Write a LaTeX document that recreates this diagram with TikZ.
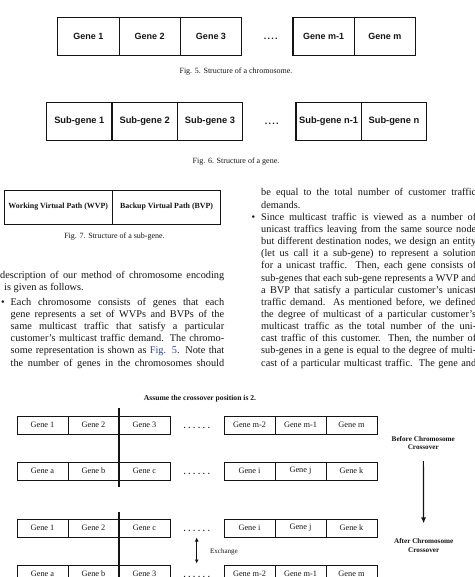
\documentclass[tikz,border=0pt]{standalone}
\usepackage{fontspec}
\setmainfont{Liberation Serif}
\newfontfamily\arialfont{Liberation Sans}
\usepackage{xcolor}
\usetikzlibrary{arrows.meta,positioning}
\definecolor{ink}{HTML}{141414}
\definecolor{linkblue}{HTML}{2E3FBE}
\newcommand{\jline}[2]{\hbox to #1{#2}}
\newcommand{\rline}[2]{\hbox to #1{#2\hfil}}
\newcommand{\bul}{\llap{\textbullet\hspace{6pt}}}

\begin{document}
\begin{tikzpicture}[x=1pt,y=-1pt,
  genebox/.style={draw=ink,line width=1.1pt,outer sep=0pt,inner sep=0pt,text=ink,
    minimum width=61.3pt,minimum height=38pt,
    font=\arialfont\bfseries\fontsize{9}{10}\selectfont},
  subbox/.style={genebox,minimum width=65.3pt,
    font=\arialfont\bfseries\fontsize{9.3}{10}\selectfont},
  pathbox/.style={draw=ink,line width=0.9pt,outer sep=0pt,inner sep=0pt,text=ink,
    minimum width=108.4pt,minimum height=34pt,
    font=\bfseries\fontsize{7.9}{9}\selectfont},
  cellbox/.style={draw=ink,line width=0.8pt,outer sep=0pt,inner sep=0pt,text=ink,
    minimum width=51pt,minimum height=18pt,font=\fontsize{8.3}{9}\selectfont},
  figcap/.style={anchor=base,inner sep=0pt,text=ink,font=\fontsize{8}{9.5}\selectfont},
  bodyline/.style={anchor=base west,inner sep=0pt,text=ink,font=\fontsize{10.3}{12}\selectfont},
  gap/.style={anchor=base,inner sep=0pt,text=ink},
  crossnote/.style={align=center,inner sep=1pt,text=ink,font=\bfseries\fontsize{7.2}{8.5}\selectfont}
]
\useasboundingbox (0,0) rectangle (474,577);
\clip (0,0) rectangle (474,577);

% Fig. 5
\node[genebox] (c1) at (88.4,36.3) {Gene 1};
\node[genebox,right=0pt of c1] (c2) {Gene 2};
\node[genebox,right=0pt of c2] (c3) {Gene 3};
\node[gap,font=\arialfont\bfseries\fontsize{9}{10}\selectfont] (cdots) at (270.7,39.5) {.\kern1.2pt.\kern1.2pt.\kern1.2pt.};
\node[genebox] (c4) at (323.65,36.3) {Gene m-1};
\node[genebox,right=0pt of c4] (c5) {Gene m};
\node[figcap] (cap5) at (236,74) {Fig. 5. Structure of a chromosome.};

% Fig. 6
\node[subbox] (s1) at (79.35,121.3) {Sub-gene 1};
\node[subbox,right=0pt of s1] (s2) {Sub-gene 2};
\node[subbox,right=0pt of s2] (s3) {Sub-gene 3};
\node[gap,font=\arialfont\bfseries\fontsize{9}{10}\selectfont] (sdots) at (271.7,124.6) {.\kern1.2pt.\kern1.2pt.\kern1.2pt.};
\node[subbox] (s4) at (328.65,121.3) {Sub-gene n-1};
\node[subbox,right=0pt of s4] (s5) {Sub-gene n};
\node[figcap] (cap6) at (236,163.5) {Fig. 6. Structure of a gene.};

% Fig. 7
\node[pathbox] (wvp) at (58.2,207) {Working Virtual Path (WVP)};
\node[pathbox,right=0pt of wvp] (bvp) {Backup Virtual Path (BVP)};
\node[figcap] (cap7) at (114.5,238.5) {Fig. 7. Structure of a sub-gene.};

% left column
\node[bodyline] (l0) at (0,278) {\jline{224pt}{description of our method of chromosome encoding}};
\node[bodyline] (l1) at (4,290) {\rline{220pt}{is given as follows.}};
\node[bodyline] (l2) at (10.5,305.35) {\jline{213.5pt}{\bul Each chromosome consists of genes that each}};
\node[bodyline] (l3) at (10.5,317.5) {\jline{213.5pt}{gene represents a set of WVPs and BVPs of the}};
\node[bodyline] (l4) at (10.5,329.65) {\jline{213.5pt}{same multicast traffic that satisfy a particular}};
\node[bodyline] (l5) at (10.5,341.8) {\jline{213.5pt}{customer’s multicast traffic demand. The chromo-}};
\node[bodyline] (l6) at (10.5,353.95) {\jline{213.5pt}{some representation is shown as {\color{linkblue}Fig. 5}. Note that}};
\node[bodyline] (l7) at (10.5,366.1) {\jline{213.5pt}{the number of genes in the chromosomes should}};

% right column
\node[bodyline] (r0) at (261,196) {\jline{215pt}{be equal to the total number of customer traffic}};
\node[bodyline] (r1) at (261,208.15) {\rline{215pt}{demands.}};
\node[bodyline] (r2) at (261,220.3) {\jline{215pt}{\bul Since multicast traffic is viewed as a number of}};
\node[bodyline] (r3) at (261,232.45) {\jline{215pt}{unicast traffics leaving from the same source node}};
\node[bodyline] (r4) at (261,244.6) {\jline{215pt}{but different destination nodes, we design an entity}};
\node[bodyline] (r5) at (261,256.75) {\jline{215pt}{(let us call it a sub-gene) to represent a solution}};
\node[bodyline] (r6) at (261,268.9) {\jline{215pt}{for a unicast traffic. Then, each gene consists of}};
\node[bodyline] (r7) at (261,281.05) {\jline{215pt}{sub-genes that each sub-gene represents a WVP and}};
\node[bodyline] (r8) at (261,293.2) {\jline{215pt}{a BVP that satisfy a particular customer’s unicast}};
\node[bodyline] (r9) at (261,305.35) {\jline{215pt}{traffic demand. As mentioned before, we defined}};
\node[bodyline] (r10) at (261,317.5) {\jline{215pt}{the degree of multicast of a particular customer’s}};
\node[bodyline] (r11) at (261,329.65) {\jline{215pt}{multicast traffic as the total number of the uni-}};
\node[bodyline] (r12) at (261,341.8) {\jline{215pt}{cast traffic of this customer. Then, the number of}};
\node[bodyline] (r13) at (261,353.95) {\jline{215pt}{sub-genes in a gene is equal to the degree of multi-}};
\node[bodyline] (r14) at (261,366.1) {\jline{215pt}{cast of a particular multicast traffic. The gene and}};

% Fig. 8
\node[anchor=base,inner sep=0pt,text=ink,font=\bfseries\fontsize{7.6}{9}\selectfont] (assume) at (200,400.5) {Assume the crossover position is 2.};

\coordinate (cutA1) at (119,408);
\coordinate (cutA2) at (119,487);
\coordinate (cutB1) at (119,512);
\coordinate (cutB2) at (119,590);
\draw[ink,line width=1.1pt] (cutA1) -- (cutA2);
\draw[ink,line width=1.1pt] (cutB1) -- (cutB2);

\node[cellbox] (p1) at (42.5,425) {Gene 1};
\node[cellbox,right=0pt of p1] (p2) {Gene 2};
\node[cellbox,right=0pt of p2] (p3) {Gene 3};
\node[gap,font=\bfseries\fontsize{8.3}{9}\selectfont] (pdots) at (196.7,428) {. . . . . .};
\node[cellbox] (p4) at (249.5,425) {Gene m-2};
\node[cellbox,right=0pt of p4] (p5) {Gene m-1};
\node[cellbox,right=0pt of p5] (p6) {Gene m};

\node[cellbox] (q1) at (42.5,471) {Gene a};
\node[cellbox,right=0pt of q1] (q2) {Gene b};
\node[cellbox,right=0pt of q2] (q3) {Gene c};
\node[gap,font=\bfseries\fontsize{8.3}{9}\selectfont] (qdots) at (196.7,474) {. . . . . .};
\node[cellbox] (q4) at (249.5,471) {Gene i};
\node[cellbox,right=0pt of q4] (q5) {Gene j};
\node[cellbox,right=0pt of q5] (q6) {Gene k};

\node[cellbox] (u1) at (42.5,528) {Gene 1};
\node[cellbox,right=0pt of u1] (u2) {Gene 2};
\node[cellbox,right=0pt of u2] (u3) {Gene c};
\node[gap,font=\bfseries\fontsize{8.3}{9}\selectfont] (udots) at (196.7,531) {. . . . . .};
\node[cellbox] (u4) at (249.5,528) {Gene i};
\node[cellbox,right=0pt of u4] (u5) {Gene j};
\node[cellbox,right=0pt of u5] (u6) {Gene k};

\node[cellbox] (v1) at (42.5,574) {Gene a};
\node[cellbox,right=0pt of v1] (v2) {Gene b};
\node[cellbox,right=0pt of v2] (v3) {Gene 3};
\node[gap,font=\bfseries\fontsize{8.3}{9}\selectfont] (vdots) at (196.7,577) {. . . . . .};
\node[cellbox] (v4) at (249.5,574) {Gene m-2};
\node[cellbox,right=0pt of v4] (v5) {Gene m-1};
\node[cellbox,right=0pt of v5] (v6) {Gene m};

% exchange
\coordinate (xchg1) at (196.7,537.5);
\coordinate (xchg2) at (196.7,563.5);
\draw[ink,line width=1pt,{Latex[length=4pt,width=4pt]}-{Latex[length=4pt,width=4pt]}] (xchg1) -- (xchg2);
\node[anchor=west,inner sep=0pt,text=ink,font=\fontsize{7}{8}\selectfont] (xchg) at (210,551.7) {Exchange};

% before / after
\node[crossnote] (before) at (423.3,443) {Before Chromosome\\Crossover};
\node[crossnote] (after) at (423.7,545.5) {After Chromosome\\Crossover};
\draw[ink,line width=1.2pt,-{Latex[length=6pt,width=5pt]},shorten <=10pt,shorten >=14pt] (before) -- (after);
\end{tikzpicture}
\end{document}
